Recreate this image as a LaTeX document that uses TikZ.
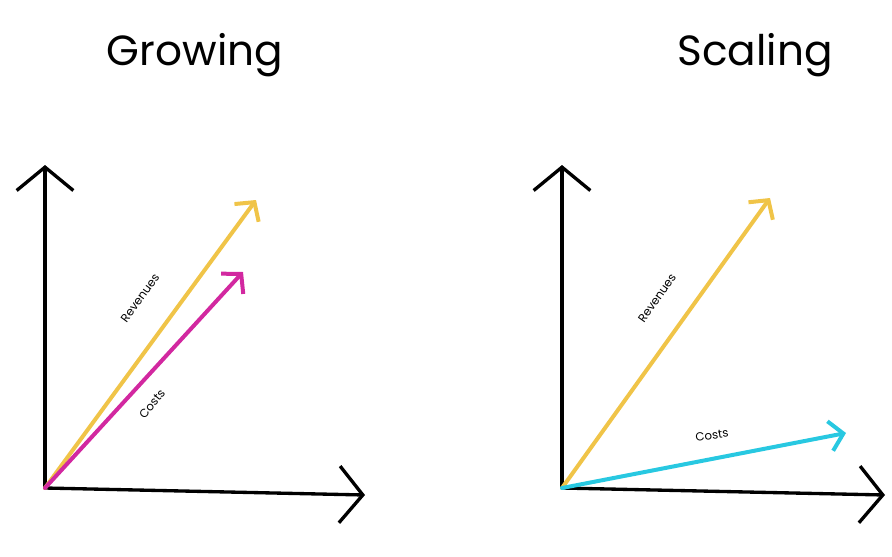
\documentclass[tikz,border=0pt]{standalone}
\usepackage{fontspec}
\setmainfont{Poppins}
\usetikzlibrary{arrows.meta}
\definecolor{revyellow}{RGB}{240,196,72}
\definecolor{costpink}{RGB}{210,40,160}
\definecolor{costcyan}{RGB}{40,200,225}
\tikzstyle{axis} = [line width=1mm, line cap=round, -{Straight Barb[length=7mm,width=17mm,line width=1mm]}]
\tikzstyle{vec} = [line width=1.2mm, line cap=round, -{Straight Barb[length=4mm,width=9mm,line width=1.2mm]}]
\tikzstyle{title} = [font=\fontsize{36}{38}\selectfont]
\tikzstyle{lbl} = [font=\fontsize{10}{11}\selectfont]
\begin{document}
\begin{tikzpicture}[x=0.03cm, y=-0.03cm]
\useasboundingbox (0,0) rectangle (892,556);

% Titles
\node (growing) [title] at (195,55) {Growing};
\node (scaling) [title] at (755,55) {Scaling};

% Growing
\coordinate (o1) at (45,488);
\coordinate (y1) at (45,165);
\coordinate (x1) at (365,495);
\coordinate (r1) at (256,200);
\coordinate (c1) at (243,272);
\draw [axis] (o1) -- (y1);
\draw [axis] (o1) -- (x1);
\draw [vec, revyellow] (o1) -- (r1);
\draw [vec, costpink] (o1) -- (c1);
\node (rev1) [lbl, rotate=54] at (140,298) {Revenues};
\node (cost1) [lbl, rotate=50] at (152,404) {Costs};

% Scaling
\coordinate (o2) at (562,488);
\coordinate (y2) at (562,165);
\coordinate (x2) at (885,495);
\coordinate (r2) at (770,198);
\coordinate (c2) at (846,433);
\draw [axis] (o2) -- (y2);
\draw [axis] (o2) -- (x2);
\draw [vec, revyellow] (o2) -- (r2);
\draw [vec, costcyan] (o2) -- (c2);
\node (rev2) [lbl, rotate=55] at (657,298) {Revenues};
\node (cost2) [lbl, rotate=8] at (712,435) {Costs};

\end{tikzpicture}
\end{document}
